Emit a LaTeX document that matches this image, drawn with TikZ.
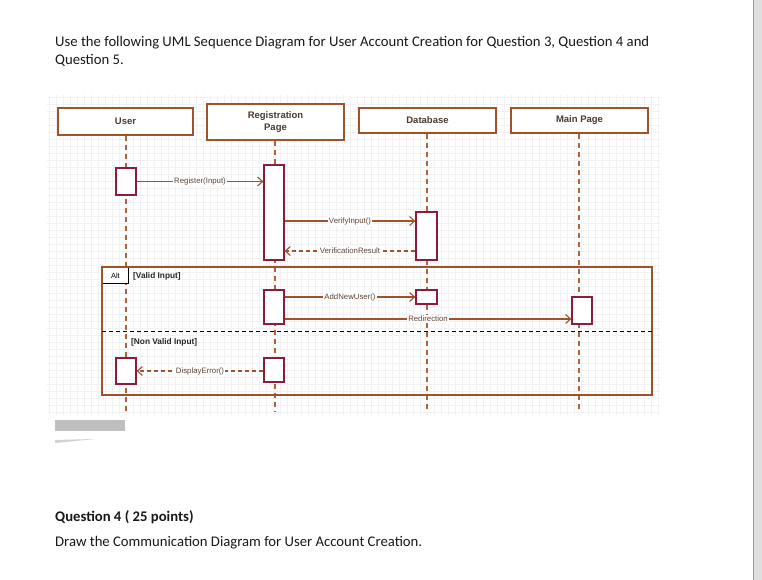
\documentclass[tikz,border=0pt]{standalone}
\usepackage{fontspec}
\setmainfont{Carlito}
\newfontfamily\diag{Liberation Sans}
\usetikzlibrary{arrows.meta}
\definecolor{lineC}{HTML}{A0522D}
\definecolor{lifeC}{HTML}{B0643C}
\definecolor{actC}{HTML}{8B1C3C}
\definecolor{headT}{HTML}{4A3A30}
\definecolor{msgT}{HTML}{5E4536}
\definecolor{gridC}{HTML}{F1F1F1}
\tikzset{
  head/.style={draw=lineC,line width=1.4pt,fill=white,font=\diag\bfseries\fontsize{9.5}{11}\selectfont,text=headT,align=center,inner sep=0pt},
  act/.style={draw=actC,line width=1.2pt,fill=white,inner sep=0pt},
  life/.style={draw=lifeC,line width=1.4pt,dash pattern=on 5pt off 4pt},
  msg/.style={draw=lineC,line width=1.1pt,-{Straight Barb[length=5pt,width=9pt,line width=1.1pt]}},
  ret/.style={msg,dash pattern=on 4pt off 3pt},
  lbl/.style={fill=white,inner sep=1pt,font=\diag\fontsize{7.8}{9}\selectfont,text=msgT},
  guard/.style={font=\diag\bfseries\fontsize{8.3}{10}\selectfont,text=black!85,anchor=west,inner sep=0pt},
  body/.style={anchor=base west,inner sep=0pt,font=\fontsize{14.7}{17}\selectfont,text=black!90}
}
\begin{document}
\begin{tikzpicture}[x=1pt,y=-1pt]
\useasboundingbox (0,0) rectangle (762,580);
\fill[white] (0,0) rectangle (753,580);
\fill[black!13] (753,0) rectangle (762,580);
\draw[black!40,line width=0.8pt] (753,0) -- (753,580);
% grid
\foreach \gx in {49,56,...,660} {\draw[gridC,line width=0.6pt] (\gx,95) -- (\gx,415);}
\foreach \gy in {97,104,...,415} {\draw[gridC,line width=0.6pt] (47,\gy) -- (660,\gy);}
% text
\node[body] (t1) at (55,47) {Use the following UML Sequence Diagram for User Account Creation for Question 3, Question 4 and};
\node[body] (t2) at (55,65) {Question 5.};
% lifelines
\coordinate (lu) at (126,412);
\coordinate (lr) at (275,412);
\coordinate (ld) at (427,412);
\coordinate (lm) at (579,412);
% headers
\node[head,minimum width=135pt,minimum height=27pt] (hu) at (125.5,121.5) {User};
\node[head,minimum width=137pt,minimum height=36pt] (hr) at (275.5,122) {Registration\\[1pt]Page};
\node[head,minimum width=137pt,minimum height=25pt] (hd) at (427.5,120.5) {Database};
\node[head,minimum width=137pt,minimum height=25pt] (hm) at (579.5,120.5) {Main Page};
\draw[life] (hu.south -| lu) -- (lu);
\draw[life] (hr.south -| lr) -- (lr);
\draw[life] (hd.south -| ld) -- (ld);
\draw[life] (hm.south -| lm) -- (lm);
% alt frame
\coordinate (fa) at (102,267);
\coordinate (fb) at (652,395);
\draw[lineC,line width=1.4pt] (fa) rectangle (fb);
\node[draw=none,fill=white,minimum width=25pt,minimum height=15pt,inner sep=0pt,anchor=north west,font=\diag\fontsize{7.5}{9}\selectfont] (altl) at (102.7,267.7) {Alt};
\draw[black,line width=1.2pt] (altl.south west) -- (altl.south east) -- (altl.north east);
\draw[black,line width=1pt,dash pattern=on 4pt off 3pt] (fa |- 0,331) -- (fb |- 0,331);
\node[guard] (g1) at (133,276) {[Valid Input]};
\node[guard] (g2) at (131,342) {[Non Valid Input]};
% activations
\node[act,minimum width=20pt,minimum height=27pt] (ua1) at (126,181.5) {};
\node[act,minimum width=20pt,minimum height=95pt] (ra1) at (274,212.5) {};
\node[act,minimum width=21pt,minimum height=48pt] (da1) at (426.5,236) {};
\node[act,minimum width=20pt,minimum height=34pt] (ra2) at (274,307) {};
\node[act,minimum width=21pt,minimum height=14pt] (da2) at (426.5,297) {};
\node[act,minimum width=20pt,minimum height=27pt] (ma1) at (582,310.5) {};
\node[act,minimum width=20pt,minimum height=26pt] (ua2) at (126,371) {};
\node[act,minimum width=20pt,minimum height=24pt] (ra3) at (274,370) {};
% messages
\draw[msg] (ua1.east) -- node[lbl] {Register(Input)} (ra1.west |- ua1.east);
\coordinate (y2) at (0,221);
\draw[msg] (ra1.east |- y2) -- node[lbl] {VerifyInput()} (da1.west |- y2);
\coordinate (y3) at (0,251);
\draw[ret] (da1.west |- y3) -- node[lbl] {VerificationResult} (ra1.east |- y3);
\draw[msg] (ra2.east |- da2.west) -- node[lbl] {AddNewUser()} (da2.west);
\coordinate (y5) at (0,319);
\draw[msg] (ra2.east |- y5) -- node[lbl,pos=0.5] {Redirection} (ma1.west |- y5);
\draw[ret] (ra3.west |- ua2.east) -- node[lbl] {DisplayError()} (ua2.east);
% obscured region
\fill[black!25] (55,420) rectangle (125,431);
\fill[black!18] (55,440) -- (95,439) -- (55,443) -- cycle;
% bottom text
\node[body,font=\bfseries\fontsize{14.7}{17}\selectfont] (t3) at (55,521) {Question 4 ( 25 points)};
\node[body] (t4) at (55,546) {Draw the Communication Diagram for User Account Creation.};
\end{tikzpicture}
\end{document}
